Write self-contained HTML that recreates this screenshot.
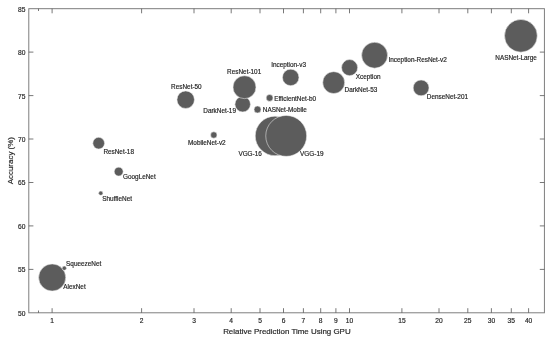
<!DOCTYPE html>
<html><head><meta charset="utf-8"><title>Accuracy vs Relative Prediction Time Using GPU</title>
<style>html,body{margin:0;padding:0;background:#fff}svg{display:block}text{font-family:"Liberation Sans",sans-serif;fill:#262626;stroke:#262626;stroke-width:0.18px}.t{font-size:6.65px}.l{font-size:6.4px}.a{font-size:7.95px}</style></head><body>
<svg width="550" height="343" viewBox="0 0 550 343">
<rect width="550" height="343" fill="#fff"/>
<g fill="#5c5c5c" stroke="#ececec" stroke-width="0.55">
<circle cx="52.2" cy="277.5" r="13.55"/>
<circle cx="64.3" cy="268.2" r="2.15"/>
<circle cx="100.8" cy="193.2" r="2.15"/>
<circle cx="98.7" cy="143.2" r="5.85"/>
<circle cx="118.7" cy="171.6" r="4.45"/>
<circle cx="185.7" cy="99.7" r="8.75"/>
<circle cx="213.8" cy="135.0" r="3.20"/>
<circle cx="242.7" cy="104.2" r="7.75"/>
<circle cx="244.5" cy="87.2" r="11.45"/>
<circle cx="257.5" cy="109.5" r="3.50"/>
<circle cx="269.6" cy="97.9" r="3.40"/>
<circle cx="275.0" cy="135.9" r="19.75"/>
<circle cx="286.2" cy="135.9" r="20.45"/>
<circle cx="290.7" cy="77.4" r="8.25"/>
<circle cx="333.7" cy="82.6" r="10.95"/>
<circle cx="349.6" cy="67.6" r="8.05"/>
<circle cx="374.6" cy="55.2" r="12.95"/>
<circle cx="421.1" cy="87.9" r="7.90"/>
<circle cx="520.9" cy="35.8" r="16.35"/>
</g>
<g stroke="#555" stroke-width="0.8" fill="none">
<rect x="28.8" y="8.7" width="515.6" height="304.1" stroke="#777" stroke-width="0.95"/>
<path d="M52.1 312.8v-4.6M52.1 8.7v4.6M141.6 312.8v-4.6M141.6 8.7v4.6M194.0 312.8v-4.6M194.0 8.7v4.6M231.2 312.8v-4.6M231.2 8.7v4.6M260.0 312.8v-4.6M260.0 8.7v4.6M283.5 312.8v-4.6M283.5 8.7v4.6M303.4 312.8v-4.6M303.4 8.7v4.6M320.7 312.8v-4.6M320.7 8.7v4.6M335.9 312.8v-4.6M335.9 8.7v4.6M349.5 312.8v-4.6M349.5 8.7v4.6M401.9 312.8v-4.6M401.9 8.7v4.6M439.0 312.8v-4.6M439.0 8.7v4.6M467.8 312.8v-4.6M467.8 8.7v4.6M491.4 312.8v-4.6M491.4 8.7v4.6M511.3 312.8v-4.6M511.3 8.7v4.6M528.6 312.8v-4.6M528.6 8.7v4.6M38.5 312.8v-2.3M38.5 8.7v2.3M28.8 269.4h4.6M544.4 269.4h-4.6M28.8 225.9h4.6M544.4 225.9h-4.6M28.8 182.5h4.6M544.4 182.5h-4.6M28.8 139.0h4.6M544.4 139.0h-4.6M28.8 95.6h4.6M544.4 95.6h-4.6M28.8 52.1h4.6M544.4 52.1h-4.6"/>
</g>
<g class="t" text-anchor="middle">
<text x="52.1" y="323.4">1</text>
<text x="141.6" y="323.4">2</text>
<text x="194.0" y="323.4">3</text>
<text x="231.2" y="323.4">4</text>
<text x="260.0" y="323.4">5</text>
<text x="283.5" y="323.4">6</text>
<text x="303.4" y="323.4">7</text>
<text x="320.7" y="323.4">8</text>
<text x="335.9" y="323.4">9</text>
<text x="349.5" y="323.4">10</text>
<text x="401.9" y="323.4">15</text>
<text x="439.0" y="323.4">20</text>
<text x="467.8" y="323.4">25</text>
<text x="491.4" y="323.4">30</text>
<text x="511.3" y="323.4">35</text>
<text x="528.6" y="323.4">40</text>
</g>
<g class="t" text-anchor="end">
<text x="25.5" y="316.4">50</text>
<text x="25.5" y="272.3">55</text>
<text x="25.5" y="228.8">60</text>
<text x="25.5" y="185.4">65</text>
<text x="25.5" y="141.9">70</text>
<text x="25.5" y="98.5">75</text>
<text x="25.5" y="55.0">80</text>
<text x="25.5" y="11.6">85</text>
</g>
<text class="a" text-anchor="middle" x="286.9" y="334.2">Relative Prediction Time Using GPU</text>
<text class="a" text-anchor="middle" transform="translate(13.2 160.7) rotate(-90)">Accuracy (%)</text>
<g class="l">
<text x="63.3" y="288.8">AlexNet</text>
<text x="66.1" y="266.1">SqueezeNet</text>
<text x="102.3" y="200.9">ShuffleNet</text>
<text x="103.4" y="153.6">ResNet-18</text>
<text x="123.0" y="178.5">GoogLeNet</text>
<text x="171.1" y="89.2">ResNet-50</text>
<text x="188.0" y="144.9">MobileNet-v2</text>
<text x="203.3" y="113.1">DarkNet-19</text>
<text x="227.1" y="74.3">ResNet-101</text>
<text x="262.8" y="112.4">NASNet-Mobile</text>
<text x="274.2" y="100.7">EfficientNet-b0</text>
<text x="238.4" y="156.0">VGG-16</text>
<text x="300.1" y="156.1">VGG-19</text>
<text x="271.2" y="66.9">Inception-v3</text>
<text x="344.6" y="91.6">DarkNet-53</text>
<text x="355.7" y="78.7">Xception</text>
<text x="388.5" y="62.0">Inception-ResNet-v2</text>
<text x="426.8" y="99.0">DenseNet-201</text>
<text x="495.3" y="60.2">NASNet-Large</text>
</g>
</svg></body></html>
